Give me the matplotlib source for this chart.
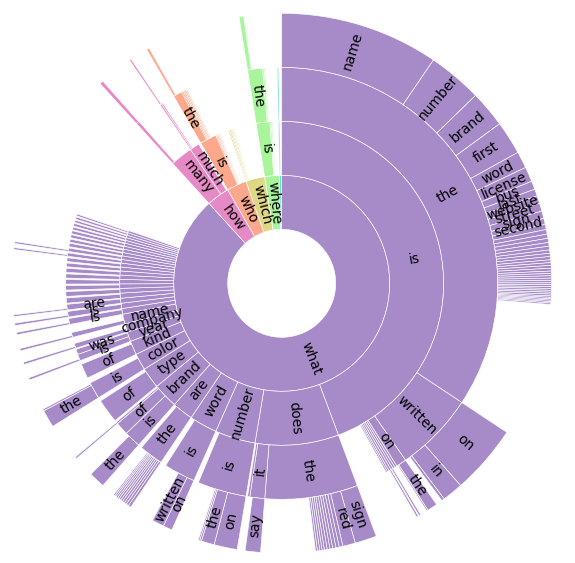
import math
import matplotlib
matplotlib.use("Agg")
import matplotlib.pyplot as plt
from matplotlib.patches import Wedge

# ---------------- data (angular share, whole circle = 360) ----------------
top_labels = ["what", "how", "who", "which", "where", ""]
top_values = [317.7, 12.3, 10.7, 10.2, 7.9, 1.2]
top_colors = ["#a68bc8", "#e68ac6", "#fca88c", "#e0d785", "#a9f59c", "#66e0c4"]

what_labels = ["is", "does", "number", "word", "are", "brand", "type", "color",
               "kind", "year", "company", "name"] + [""] * 22
what_values = [159.5, 30, 14.5, 10, 7.5, 9, 7.5, 6, 5, 3.5, 3, 3.5,
               2.0, 1.9, 1.8, 1.8, 1.7, 1.6, 1.6, 1.5, 1.5, 1.4, 1.4, 1.3, 1.3,
               1.2, 1.2, 1.1, 1.1, 1.0, 1.0, 0.9, 0.9, 0.8]

what_is_labels = ["the", "written", "on", "", "", "", "", "", ""]
what_is_values = [123.5, 21.5, 2.8, 0.6, 0.6, 0.6, 0.6, 0.5, 0.4]
what_is_the_labels = ["name", "number", "brand", "first", "word", "license", "bus",
                      "last", "website", "street", "sign", "second"] + [""] * 31
what_is_the_values = [34.2, 11.7, 7.9, 7.2, 3.6, 3.2, 1.8, 1.5, 1.7, 1.7, 1.6, 1.3,
                      1.1, 1.0, 0.9, 0.9, 0.8, 0.8, 0.7, 0.7, 0.7, 0.6, 0.6, 0.6, 0.6,
                      0.5, 0.5, 0.5, 0.5, 0.5, 0.4, 0.4, 0.4, 0.4, 0.4, 0.4, 0.4,
                      0.3, 0.3, 0.3, 0.3, 0.3, 0.3]
what_is_written_labels = ["on", "in", ""]
what_is_written_values = [15, 4.5, 0.6]
what_is_on_labels = ["the", ""]
what_is_on_values = [2.2, 0.3]

what_does_labels = ["the", "it", ""]
what_does_values = [25, 4, 0.6]
what_does_the_labels = ["sign", "red"] + [""] * 10
what_does_the_values = [4.7, 2.7, 0.8, 0.7, 0.7, 0.6, 0.6, 0.6, 0.5, 0.5, 0.5, 0.4]
what_does_it_labels = ["say"]
what_does_it_values = [3.3]

what_number_labels = ["is"]
what_number_values = [13.2]
what_number_is_labels = ["on", "the", "", ""]
what_number_is_values = [5.0, 2.8, 0.4, 0.3]

what_word_labels = ["is"]
what_word_values = [8.5]
what_word_is_labels = ["on", "written"]
what_word_is_values = [2.0, 2.6]

what_are_labels = ["the"]
what_are_values = [6.5]
what_are_the_labels = [""] * 10
what_are_the_values = [0.6, 0.55, 0.5, 0.5, 0.45, 0.45, 0.4, 0.4, 0.35, 0.3]

what_brand_labels = ["is", "of", ""]
what_brand_values = [4.5, 3.5, 0.5]
what_brand_is_labels = ["the"]
what_brand_is_values = [3.5]

what_type_labels = ["of"]
what_type_values = [6.5]
what_color_labels = ["is"]
what_color_values = [4.5]
what_color_is_labels = ["the", ""]
what_color_is_values = [3.8, 0.4]
what_kind_labels = ["of"]
what_kind_values = [4.0]
what_year_labels = ["is", "was"]
what_year_values = [1.8, 1.4]
what_company_values = [1.3]
what_name_values = [1.3]

# third / fourth level under the small "what ..." slivers
what_tail_l3_labels = ["is", "is", "are"] + [""] * 19
what_tail_l3_values = [1.6, 1.5, 1.5, 1.4, 1.3, 1.2, 1.2, 1.1, 1.1, 1.0, 1.0,
                       0.9, 0.9, 0.9, 0.8, 0.8, 0.8, 0.7, 0.7, 0.6, 0.6, 0.5]
what_tail_l4_values = [0.5, 0.5, 0.4, 0, 0, 0, 0, 0, 0, 0, 0, 0.4, 0.4,
                       0, 0, 0, 0, 0, 0, 0, 0, 0]

how_labels = ["many", "much"]
how_values = [8.0, 3.5]
how_many_values = [0.9]
how_much_values = [0.5, 0.4]

who_labels = ["is", "", "", "", ""]
who_values = [6.0, 0.5, 0.4, 0.4, 0.3]
who_is_labels = ["the", "", "", "", ""]
who_is_values = [2.4, 0.5, 0.4, 0.4, 0.3]

which_values = [0.5, 0.5, 0.4, 0.4, 0.3]

where_labels = ["is", "", "", ""]
where_values = [4.9, 0.5, 0.4, 0.3]
where_is_labels = ["the", "", ""]
where_is_values = [4.0, 0.4, 0.3]

other_values = [0.5]

# ---------------- build hierarchy ----------------
children = {
    "what": (what_labels, what_values),
    "what/is": (what_is_labels, what_is_values),
    "what/is/the": (what_is_the_labels, what_is_the_values),
    "what/is/written": (what_is_written_labels, what_is_written_values),
    "what/is/on": (what_is_on_labels, what_is_on_values),
    "what/is/#5": ([""], [0.4]),
    "what/is/#6": ([""], [0.4]),
    "what/does": (what_does_labels, what_does_values),
    "what/does/the": (what_does_the_labels, what_does_the_values),
    "what/does/it": (what_does_it_labels, what_does_it_values),
    "what/number": (what_number_labels, what_number_values),
    "what/number/is": (what_number_is_labels, what_number_is_values),
    "what/word": (what_word_labels, what_word_values),
    "what/word/is": (what_word_is_labels, what_word_is_values),
    "what/are": (what_are_labels, what_are_values),
    "what/are/the": (what_are_the_labels, what_are_the_values),
    "what/brand": (what_brand_labels, what_brand_values),
    "what/brand/is": (what_brand_is_labels, what_brand_is_values),
    "what/brand/#2": ([""], [0.4]),
    "what/type": (what_type_labels, what_type_values),
    "what/color": (what_color_labels, what_color_values),
    "what/color/is": (what_color_is_labels, what_color_is_values),
    "what/kind": (what_kind_labels, what_kind_values),
    "what/year": (what_year_labels, what_year_values),
    "what/year/is": ([""], [0.5]),
    "what/company": ([""] * len(what_company_values), what_company_values),
    "what/company/#0": ([""], [0.5]),
    "what/name": ([""] * len(what_name_values), what_name_values),
    "what/name/#0": ([""], [0.5]),
    "how": (how_labels, how_values),
    "how/many": ([""], how_many_values),
    "how/many/#0": ([""], [0.8]),
    "how/much": ([""] * 2, how_much_values),
    "how/much/#0": ([""], [0.4]),
    "who": (who_labels, who_values),
    "who/is": (who_is_labels, who_is_values),
    "who/is/the": ([""], [0.6]),
    "which": ([""] * len(which_values), which_values),
    "where": (where_labels, where_values),
    "where/is": (where_is_labels, where_is_values),
    "where/is/the": ([""], [1.0]),
    "#5": ([""], other_values),
    "#5/#0": ([""], [0.4]),
}
for i, (lab, v3, v4) in enumerate(zip(what_tail_l3_labels, what_tail_l3_values,
                                      what_tail_l4_values)):
    key = f"what/#{12 + i}"
    children[key] = ([lab], [v3])
    if v4:
        children[key + "/" + (lab if lab else "#0")] = ([""], [v4])

# ---------------- draw ----------------
W, H, CX, CY, UNIT = 575, 563, 281.7, 283.3, 54.0
fig = plt.figure(figsize=(W / 100, H / 100), dpi=100)
ax = fig.add_axes([0, 0, 1, 1])
ax.set_xlim(-CX / UNIT, (W - CX) / UNIT)
ax.set_ylim(-(H - CY) / UNIT, CY / UNIT)
ax.axis("off")

scale = 360.0 / sum(top_values)


def draw(key, label, value, start, depth, color):
    span = value * scale
    end = start - span
    ax.add_patch(Wedge((0, 0), depth + 1, end, start, width=1.0,
                       facecolor=color, edgecolor="white", linewidth=0.45))
    if label:
        mid = (start + end) / 2.0
        m = ((mid + 180) % 360) - 180
        rot = m if -90 <= m <= 90 else (m - 180 if m > 90 else m + 180)
        r = depth + 0.5
        ax.text(r * math.cos(math.radians(mid)), r * math.sin(math.radians(mid)),
                label, rotation=rot, rotation_mode="anchor", ha="center",
                va="center", fontsize=10, color="black", zorder=5)
    if key in children:
        labs, vals = children[key]
        s = start
        for i, (l, v) in enumerate(zip(labs, vals)):
            ck = key + "/" + (l if l else f"#{i}")
            draw(ck, l, v, s, depth + 1, color)
            s -= v * scale


start = 90.0
for i, (lab, val, col) in enumerate(zip(top_labels, top_values, top_colors)):
    k = lab if lab else f"#{i}"
    draw(k, lab, val, start, 1, col)
    start -= val * scale

fig.savefig("out.png", dpi=100)
